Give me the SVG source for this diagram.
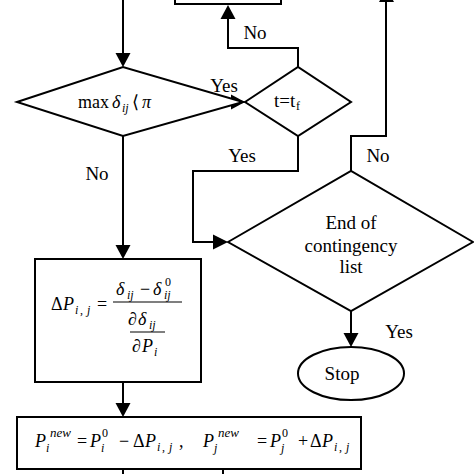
<svg xmlns="http://www.w3.org/2000/svg" width="474" height="474" viewBox="0 0 474 474">
<defs>
<style>
.ln{fill:none;stroke:#000;stroke-width:2}
.sh{fill:#fff;stroke:#000;stroke-width:2}
.ah{fill:#000}
text{font-family:"Liberation Serif","DejaVu Serif",serif;fill:#000}
.t{font-size:19px}
.m{font-size:18px}
.i{font-style:italic}
.s{font-size:12px}
.bar{stroke:#000;stroke-width:1.2}
</style>
</defs>
<rect x="0" y="0" width="474" height="474" fill="#fff"/>
<g id="connectors">
<path class="ln" d="M123,0 V60"/>
<path class="ln" d="M123,136 V250"/>
<path class="ln" d="M123,382 V408"/>
<path class="ln" d="M243,102 H236"/>
<path class="ln" d="M298,67 V48 H228 V12"/>
<path class="ln" d="M298,136 V171 H193 V242 H220"/>
<path class="ln" d="M351,171 V136 H386 V0"/>
<path class="ln" d="M351,311 V338"/>
<path class="ln" d="M123,469 V474"/>
<path class="ln" d="M223,469 V474"/>
<polygon class="ah" points="115.5,53 130.5,53 123,67"/>
<polygon class="ah" points="115.5,245 130.5,245 123,259"/>
<polygon class="ah" points="115.5,403 130.5,403 123,417"/>
<polygon class="ah" points="231,94.5 231,109.5 245,102"/>
<polygon class="ah" points="220.5,19 235.5,19 228,5"/>
<polygon class="ah" points="213,234.5 213,249.5 228,242"/>
<polygon class="ah" points="343.5,333 358.5,333 351,347"/>
<polygon class="ah" points="379,2 394,2 386.5,-12"/>
<text class="t" x="255" y="39" text-anchor="middle">No</text>
<text class="t" x="224" y="92" text-anchor="middle">Yes</text>
<text class="t" x="242" y="162" text-anchor="middle">Yes</text>
<text class="t" x="97" y="180" text-anchor="middle">No</text>
<text class="t" x="378" y="162" text-anchor="middle">No</text>
<text class="t" x="399" y="338" text-anchor="middle">Yes</text>
</g>
<g id="top-box">
<rect class="sh" x="175" y="-40" width="106" height="44"/>
</g>
<g id="decision-max-delta">
<polygon class="sh" points="17,102 123,67 243,102 123,136"/>
<text class="m" x="78" y="108">max</text>
<text class="m i" x="112" y="108">δ</text>
<text class="m i s" x="122" y="112">ij</text>
<text class="m" x="132" y="108">⟨</text>
<text class="m i" x="142" y="108">π</text>
</g>
<g id="decision-t">
<polygon class="sh" points="245,102 298,67 351,102 298,136"/>
<text class="t" x="274" y="107">t=t</text>
<text class="s" x="296" y="110">f</text>
</g>
<g id="decision-end">
<polygon class="sh" points="228,242 351,171 473,242 351,311"/>
<text class="t" x="351" y="229" text-anchor="middle">End of</text>
<text class="t" x="351" y="252" text-anchor="middle">contingency</text>
<text class="t" x="351" y="273" text-anchor="middle">list</text>
</g>
<g id="stop">
<ellipse class="sh" cx="351" cy="373.5" rx="53" ry="26.5"/>
<text class="t" x="342" y="380" text-anchor="middle">Stop</text>
</g>
<g id="box-deltaP">
<rect class="sh" x="35" y="259" width="166" height="123"/>
<text class="m" x="51" y="310">Δ</text>
<text class="m i" x="63" y="310">P</text>
<text class="m i s" x="75" y="314">i</text>
<text class="m s" x="80" y="314">,</text>
<text class="m i s" x="87" y="314">j</text>
<text class="m" x="97" y="310">=</text>
<line class="bar" x1="113" y1="302" x2="182" y2="302"/>
<text class="m i" x="116" y="295">δ</text>
<text class="m i s" x="127" y="299">ij</text>
<text class="m" x="140" y="295">−</text>
<text class="m i" x="153" y="295">δ</text>
<text class="m i s" x="164" y="299">ij</text>
<text class="m s" x="165" y="286">0</text>
<text class="m" x="128" y="325">∂</text>
<text class="m i" x="138" y="325">δ</text>
<text class="m i s" x="149" y="329">ij</text>
<line class="bar" x1="130" y1="332" x2="165" y2="332"/>
<text class="m" x="132" y="352">∂</text>
<text class="m i" x="142" y="352">P</text>
<text class="m i s" x="154" y="356">i</text>
</g>
<g id="box-Pnew">
<rect class="sh" x="17" y="417" width="344" height="52"/>
<text class="m i" x="35" y="447">P</text>
<text class="m i s" x="46" y="452">i</text>
<text class="m i s" x="50" y="437" style="font-size:13px">new</text>
<text class="m" x="77" y="447">=</text>
<text class="m i" x="90" y="447">P</text>
<text class="m i s" x="101" y="452">i</text>
<text class="m s" x="102" y="437">0</text>
<text class="m" x="119" y="447">−</text>
<text class="m" x="133" y="447">Δ</text>
<text class="m i" x="145" y="447">P</text>
<text class="m i s" x="157" y="451">i</text>
<text class="m s" x="162" y="451">,</text>
<text class="m i s" x="169" y="451">j</text>
<text class="m" x="179" y="447">,</text>
<text class="m i" x="203" y="447">P</text>
<text class="m i s" x="214" y="452">j</text>
<text class="m i s" x="218" y="437" style="font-size:13px">new</text>
<text class="m" x="257" y="447">=</text>
<text class="m i" x="270" y="447">P</text>
<text class="m i s" x="281" y="452">j</text>
<text class="m s" x="282" y="437">0</text>
<text class="m" x="298" y="447">+</text>
<text class="m" x="310" y="447">Δ</text>
<text class="m i" x="322" y="447">P</text>
<text class="m i s" x="334" y="451">i</text>
<text class="m s" x="339" y="451">,</text>
<text class="m i s" x="346" y="451">j</text>
</g>
</svg>
